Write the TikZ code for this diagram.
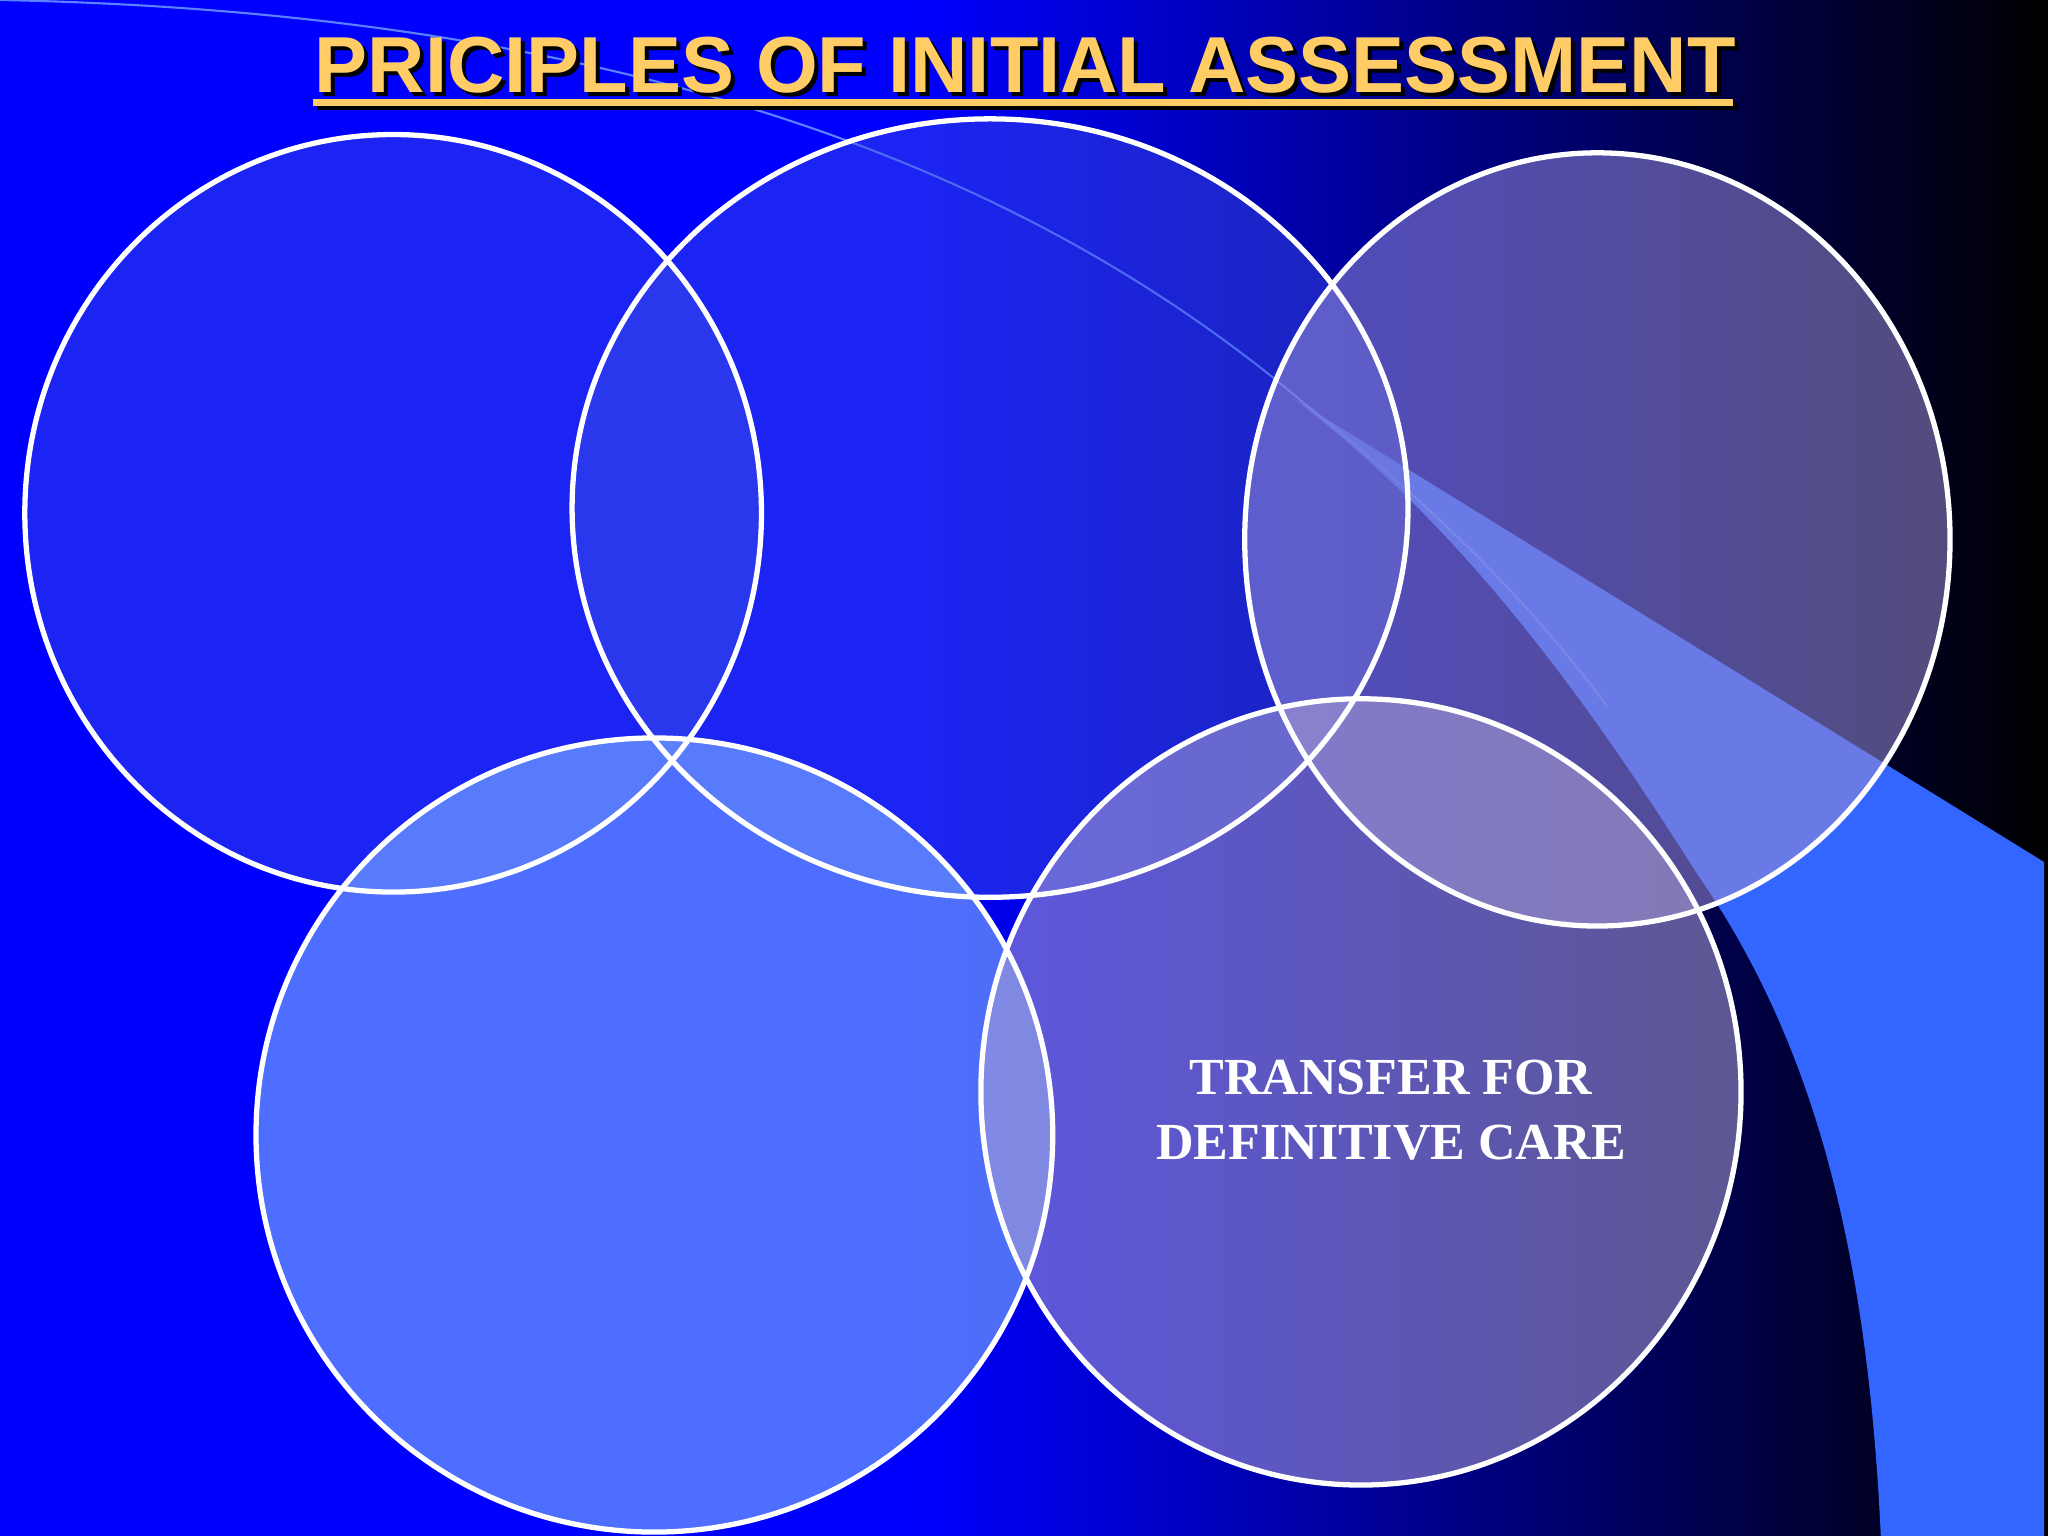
\documentclass[tikz,border=0pt]{standalone}
\usepackage{fontspec}
\setmainfont{Liberation Serif}
\newfontfamily\titlefont{Liberation Sans}
\definecolor{swoosh}{RGB}{51,102,255}
\definecolor{thinline}{RGB}{90,130,255}
\definecolor{cA}{RGB}{60,80,230}
\definecolor{cC}{RGB}{150,140,210}
\definecolor{cD}{RGB}{120,170,255}
\definecolor{cE}{RGB}{170,160,210}
\definecolor{gold}{RGB}{255,204,102}
\begin{document}
\begin{tikzpicture}[x=0.013061cm,y=-0.013061cm,
  ring/.style={draw=white,line width=1.5pt},
  lbl/.style={text=white,font=\bfseries\fontsize{14.8}{18.5}\selectfont,align=center}]
\useasboundingbox (0,0) rectangle (1568,1176);
\fill[blue] (0,0) rectangle (701,1176);
\shade[left color=blue,right color=black] (700,0) rectangle (1568,1176);
\fill[swoosh] (990,305) -- (1565,660) -- (1565,1176) -- (1440,1176)
  .. controls (1430,960) and (1390,800) .. (1300,670) .. controls (1230,560) and (1130,410) .. (990,305);
\draw[thinline,line width=0.6pt] (0,0) .. controls (500,10) and (800,140) .. (1000,310)
  .. controls (1100,390) and (1170,460) .. (1230,540);
\fill[cA,opacity=0.45] (301,393) ellipse (282 and 290);
\fill[cA,opacity=0.45] (758,389) ellipse (320 and 298);
\fill[cC,opacity=0.55] (1223,413) ellipse (270 and 296);
\fill[cD,opacity=0.65] (501,869) ellipse (305 and 304);
\fill[cE,opacity=0.55] (1042,836) ellipse (291 and 301);
\draw[ring] (301,393) ellipse (282 and 290);
\draw[ring] (758,389) ellipse (320 and 298);
\draw[ring] (1223,413) ellipse (270 and 296);
\draw[ring] (501,869) ellipse (305 and 304);
\draw[ring] (1042,836) ellipse (291 and 301);
\node[text=black,font=\titlefont\bfseries\fontsize{22.6}{28}\selectfont] (tsh) at (788,53) {PRICIPLES OF INITIAL ASSESSMENT};
\node[text=gold,font=\titlefont\bfseries\fontsize{22.6}{28}\selectfont] (title) at (785,50) {PRICIPLES OF INITIAL ASSESSMENT};
\fill[black] (243,79) rectangle (1330,84);
\fill[gold] (240,76) rectangle (1327,81);
\node[lbl] (t5) at (1065,850) {TRANSFER FOR\\DEFINITIVE CARE};
\end{tikzpicture}
\end{document}
